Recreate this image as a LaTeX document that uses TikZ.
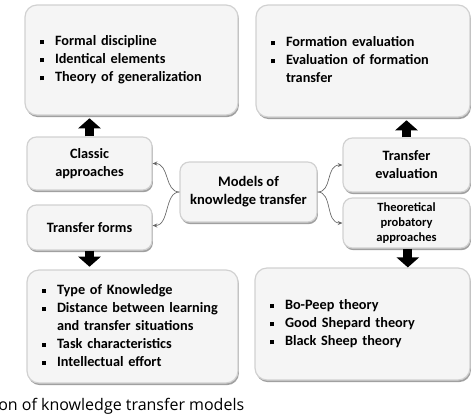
\documentclass[tikz,border=0pt]{standalone}
\usepackage{fontspec}
\setmainfont{Carlito}
\newfontfamily\capfont{Open Sans}
\usetikzlibrary{arrows.meta,shadows}
\newcommand{\bx}{\makebox[11.25pt][l]{\rule[0.9pt]{3.2pt}{3.2pt}}}
\begin{document}
\begin{tikzpicture}[x=0.75pt,y=-0.75pt,
  box/.style={draw=black!18, line width=0.9pt, fill=black!4, rounded corners=7pt,
    drop shadow={shadow xshift=0.7pt, shadow yshift=-1.6pt, fill=black!50, opacity=0.75},
    inner sep=0pt, align=center, font=\bfseries\fontsize{10.7}{13.5}\selectfont},
  listbox/.style={box, rounded corners=9pt, align=left, inner xsep=11.25pt},
  blockarrow/.style={line width=6.75pt, -{Triangle[width=16.5pt,length=7.5pt]}},
  link/.style={draw=black!60, line width=0.5pt, -{Stealth[length=3.5pt,width=3pt]}}
]
\useasboundingbox (0,0) rectangle (474,415);
\clip (0,0) rectangle (474,415);

% list boxes
\node[listbox, minimum height=82.5pt, text width=137.25pt] (tl) at (131.5,60)
  {\begin{tabular}{@{}l@{}}\bx Formal discipline\\ \bx Identical elements\\ \bx Theory of generalization\end{tabular}};
\node[listbox, minimum height=84pt, text width=138pt] (tr) at (363,61)
  {\begin{tabular}{@{}l@{}}\bx Formation evaluation\\ \bx Evaluation of formation\\ \hspace*{11.25pt}transfer\end{tabular}};
\node[listbox, minimum height=84.75pt, text width=135.75pt] (bl) at (132.5,326.5)
  {\begin{tabular}{@{}l@{}}\bx Type of Knowledge\\ \bx Distance between learning\\ \hspace*{11.25pt}and transfer situations\\ \bx Task characteristics\\ \bx Intellectual effort\end{tabular}};
\node[listbox, minimum height=84pt, text width=138.75pt] (br) at (362.5,324)
  {\begin{tabular}{@{}l@{}}\bx Bo-Peep theory\\ \bx Good Shepard theory\\ \bx Black Sheep theory\end{tabular}};

% small boxes
\node[box, minimum width=93.75pt, minimum height=39.75pt] (classic) at (89.5,163.5) {Classic\\approaches};
\node[box, minimum width=93.75pt, minimum height=33.75pt] (tforms) at (89.5,227.5) {Transfer forms};
\node[box, minimum width=102.75pt, minimum height=45pt, font=\bfseries\fontsize{10.9}{13.5}\selectfont] (models) at (248.5,192) {Models of\\knowledge transfer};
\node[box, minimum width=95.25pt, minimum height=40.5pt] (teval) at (406.5,165) {Transfer\\evaluation};
\node[box, minimum width=95.25pt, minimum height=37.5pt, font=\bfseries\fontsize{9.4}{11.2}\selectfont] (theo) at (406.5,223) {Theoretical\\probatory\\approaches};

% block arrows
\draw[blockarrow] (classic.north) -- ([yshift=-2pt]classic.north |- tl.south);
\draw[blockarrow] (teval.north) -- ([yshift=-2pt]teval.north |- tr.south);
\draw[blockarrow] (tforms.south) -- ([yshift=2pt]tforms.south |- bl.north);
\draw[blockarrow] ([xshift=1pt]theo.south) -- ([xshift=1pt]theo.south |- br.north);

% curved links
\draw[link] (models.west) .. controls +(-15,0) and +(17,0) .. (classic.east);
\draw[link] (models.west) .. controls +(-15,0) and +(17,0) .. ([yshift=1.5pt]tforms.east);
\draw[link] (models.east) .. controls +(15,0) and +(-17,0) .. (teval.west);
\draw[link] (models.east) .. controls +(15,0) and +(-17,0) .. (theo.west);

% caption
\node[anchor=base west, inner sep=0pt, font=\capfont\fontsize{12}{14}\selectfont] (cap) at (-2,410) {on of knowledge transfer models};
\end{tikzpicture}
\end{document}
